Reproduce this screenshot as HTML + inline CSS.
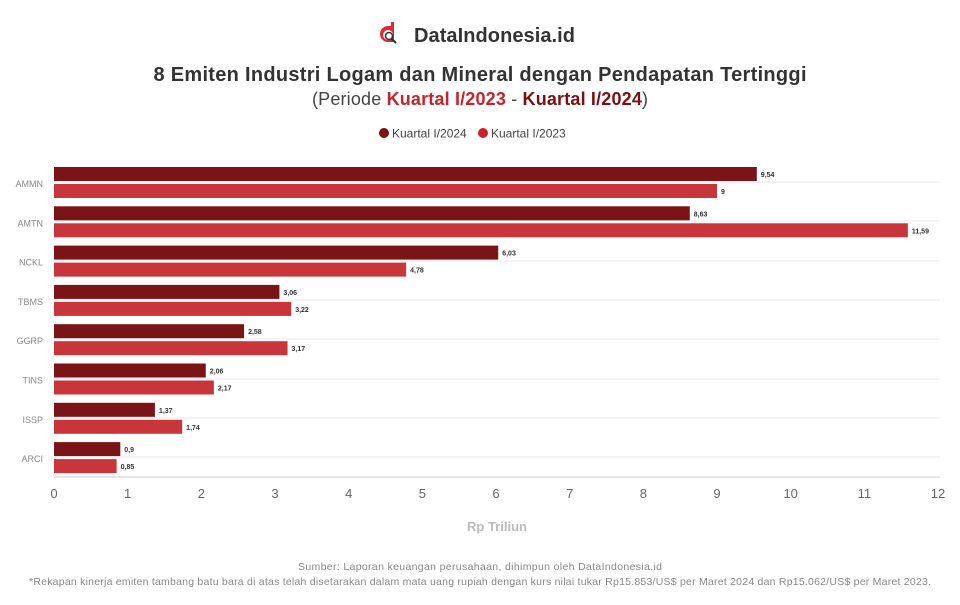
<!DOCTYPE html>
<html><head><meta charset="utf-8"><style>
body{margin:0;background:#fff;width:960px;height:600px;overflow:hidden;font-family:"Liberation Sans",sans-serif}
</style></head><body>
<svg width="960" height="600" xmlns="http://www.w3.org/2000/svg" font-family="Liberation Sans, sans-serif">
<rect width="960" height="600" fill="#fff"/>
<path d="M394 22 v20 h-6 a8 8 0 1 1 0 -16 h3 v-4 z" fill="#e0282e"/>
<circle cx="388" cy="35" r="5" fill="#fff"/>
<circle cx="389" cy="36" r="3.5" fill="none" stroke="#333" stroke-width="1.5"/>
<line x1="391.5" y1="38.5" x2="396" y2="43" stroke="#333" stroke-width="2"/>
<text x="414" y="42" font-size="20" fill="#333" font-weight="bold" textLength="161">DataIndonesia.id</text>
<text x="480" y="81" font-size="20" font-weight="bold" fill="#333" text-anchor="middle" textLength="653">8 Emiten Industri Logam dan Mineral dengan Pendapatan Tertinggi</text>
<text x="480" y="105" font-size="18" fill="#444" text-anchor="middle" textLength="336">(Periode <tspan fill="#c8232a" font-weight="bold">Kuartal I/2023</tspan> - <tspan fill="#7b0f12" font-weight="bold">Kuartal I/2024</tspan>)</text>
<circle cx="384" cy="133" r="5" fill="#7b0f12"/>
<text x="392" y="137.5" font-size="12" fill="#444">Kuartal I/2024</text>
<circle cx="483" cy="133" r="5" fill="#c8232a"/>
<text x="491" y="137.5" font-size="12" fill="#444">Kuartal I/2023</text>
<g stroke="#e8e8e8" stroke-width="1">
<line x1="54" x2="940" y1="182" y2="182"/><line x1="54" x2="940" y1="221" y2="221"/>
<line x1="54" x2="940" y1="261" y2="261"/><line x1="54" x2="940" y1="300" y2="300"/>
<line x1="54" x2="940" y1="339" y2="339"/><line x1="54" x2="940" y1="379" y2="379"/>
<line x1="54" x2="940" y1="418" y2="418"/><line x1="54" x2="940" y1="457" y2="457"/>
</g>
<line x1="54" x2="940" y1="477" y2="477" stroke="#ccc"/>
<g id="bars" font-size="7" font-weight="bold" fill="#333"></g>
<g font-size="13" fill="#666" text-anchor="middle" id="xt"></g>
<text x="497" y="531" font-size="13" fill="#bbb" text-anchor="middle" font-weight="bold">Rp Triliun</text>
<text x="480" y="570" font-size="10.5" fill="#888" text-anchor="middle" textLength="364">Sumber: Laporan keuangan perusahaan, dihimpun oleh DataIndonesia.id</text>
<text x="480" y="585" font-size="10.5" fill="#888" text-anchor="middle" textLength="902">*Rekapan kinerja emiten tambang batu bara di atas telah disetarakan dalam mata uang rupiah dengan kurs nilai tukar Rp15.853/US$ per Maret 2024 dan Rp15.062/US$ per Maret 2023.</text>
</svg>
<script>
var d=[["AMMN",9.54,9,"9,54","9"],["AMTN",8.63,11.59,"8,63","11,59"],["NCKL",6.03,4.78,"6,03","4,78"],["TBMS",3.06,3.22,"3,06","3,22"],["GGRP",2.58,3.17,"2,58","3,17"],["TINS",2.06,2.17,"2,06","2,17"],["ISSP",1.37,1.74,"1,37","1,74"],["ARCI",0.9,0.85,"0,9","0,85"]];
var ns="http://www.w3.org/2000/svg",g=document.getElementById("bars"),u=73.67;
function el(t,a,p,txt){var e=document.createElementNS(ns,t);for(var k in a)e.setAttribute(k,a[k]);if(txt)e.textContent=txt;p.appendChild(e);return e;}
d.forEach(function(r,i){var y=167+i*39.3;
el("rect",{x:54,y:y,width:r[1]*u,height:14,fill:"#7b1416"},g);
el("rect",{x:54,y:y+17,width:r[2]*u,height:14,fill:"#c8353a"},g);
el("text",{x:54+r[1]*u+4,y:y+10},g,r[3]);
el("text",{x:54+r[2]*u+4,y:y+27},g,r[4]);
el("text",{x:43,y:y+20,"text-anchor":"end","font-size":"9","font-weight":"normal",fill:"#888"},g,r[0]);
});
var xt=document.getElementById("xt");
for(var i=0;i<=12;i++)el("text",{x:54+i*u,y:498},xt,""+i);
</script>
</body></html>
